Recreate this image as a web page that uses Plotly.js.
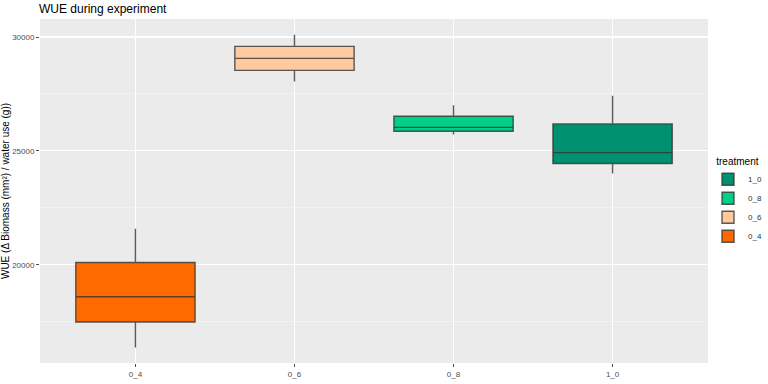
<!DOCTYPE html>
<html>
<head>
<meta charset="utf-8">
<script src="https://cdn.plot.ly/plotly-3.0.1.min.js"></script>
<style>html,body{margin:0;padding:0;background:#fff;}#chart{width:768px;height:384px;}</style>
</head>
<body>
<div id="chart"></div>
<script>
const categories = ["0_4", "0_6", "0_8", "1_0"];
const lowerWhisker = [16370, 28050, 25715, 24005];
const q1Values = [17490, 28535, 25860, 24445];
const medianValues = [18595, 29060, 26035, 24925];
const q3Values = [20100, 29590, 26520, 26185];
const upperWhisker = [21580, 30100, 27000, 27425];
const fillColors = ["#ff6a00", "#ffca9f", "#00cf86", "#009270"];

const traces = categories.map((c, i) => ({
  type: "box",
  name: c,
  x: [c],
  q1: [q1Values[i]],
  median: [medianValues[i]],
  q3: [q3Values[i]],
  lowerfence: [lowerWhisker[i]],
  upperfence: [upperWhisker[i]],
  width: 0.75,
  fillcolor: fillColors[i],
  line: {color: "rgba(51,51,51,0.8)", width: 1.4},
  whiskerwidth: 0,
  boxpoints: false,
  hoverinfo: "skip"
}));

const layout = {
  width: 768, height: 384,
  margin: {l: 40, r: 60, t: 19, b: 21, autoexpand: false},
  paper_bgcolor: "#ffffff",
  plot_bgcolor: "#ebebeb",
  font: {family: "Liberation Sans, Arial, sans-serif", color: "#4d4d4d", size: 8},
  title: {text: "WUE during experiment", x: 39/768, xref: "container", xanchor: "left",
          y: 1 - 9/384, yref: "container", yanchor: "middle",
          font: {size: 12, color: "#000000"}},
  boxmode: "overlay",
  showlegend: true,
  legend: {traceorder: "reversed", x: 1.0, xanchor: "left", y: 0.47, yanchor: "middle",
           title: {text: "treatment", side: "top center", font: {size: 10, color: "#000000"}},
           itemwidth: 30,
           font: {size: 8, color: "#333333"}, bgcolor: "rgba(0,0,0,0)", tracegroupgap: 0},
  xaxis: {type: "category", categoryorder: "array", categoryarray: categories,
          range: [-0.6, 3.6], showgrid: true, gridcolor: "#ffffff", gridwidth: 1.1,
          zeroline: false, showline: false, ticks: "outside", ticklen: 3, tickcolor: "#4d4d4d",
          tickfont: {size: 8, color: "#4d4d4d"}, fixedrange: true},
  yaxis: {range: [15690, 30790], tickvals: [20000, 25000, 30000], tickformat: "d",
          showgrid: true, gridcolor: "#ffffff", gridwidth: 1.1, zeroline: false,
          minor: {tickvals: [17500, 22500, 27500], showgrid: true, gridcolor: "#f6f6f6", gridwidth: 0.6, ticks: ""},
          ticks: "outside", ticklen: 3, tickcolor: "#4d4d4d",
          tickfont: {size: 8, color: "#4d4d4d"},
          title: {text: "WUE (Δ Biomass (mm²) / water use (g))", font: {size: 10, color: "#000000"}, standoff: 6},
          fixedrange: true}
};

Plotly.newPlot("chart", traces, layout, {displayModeBar: false, staticPlot: true});
</script>
</body>
</html>
